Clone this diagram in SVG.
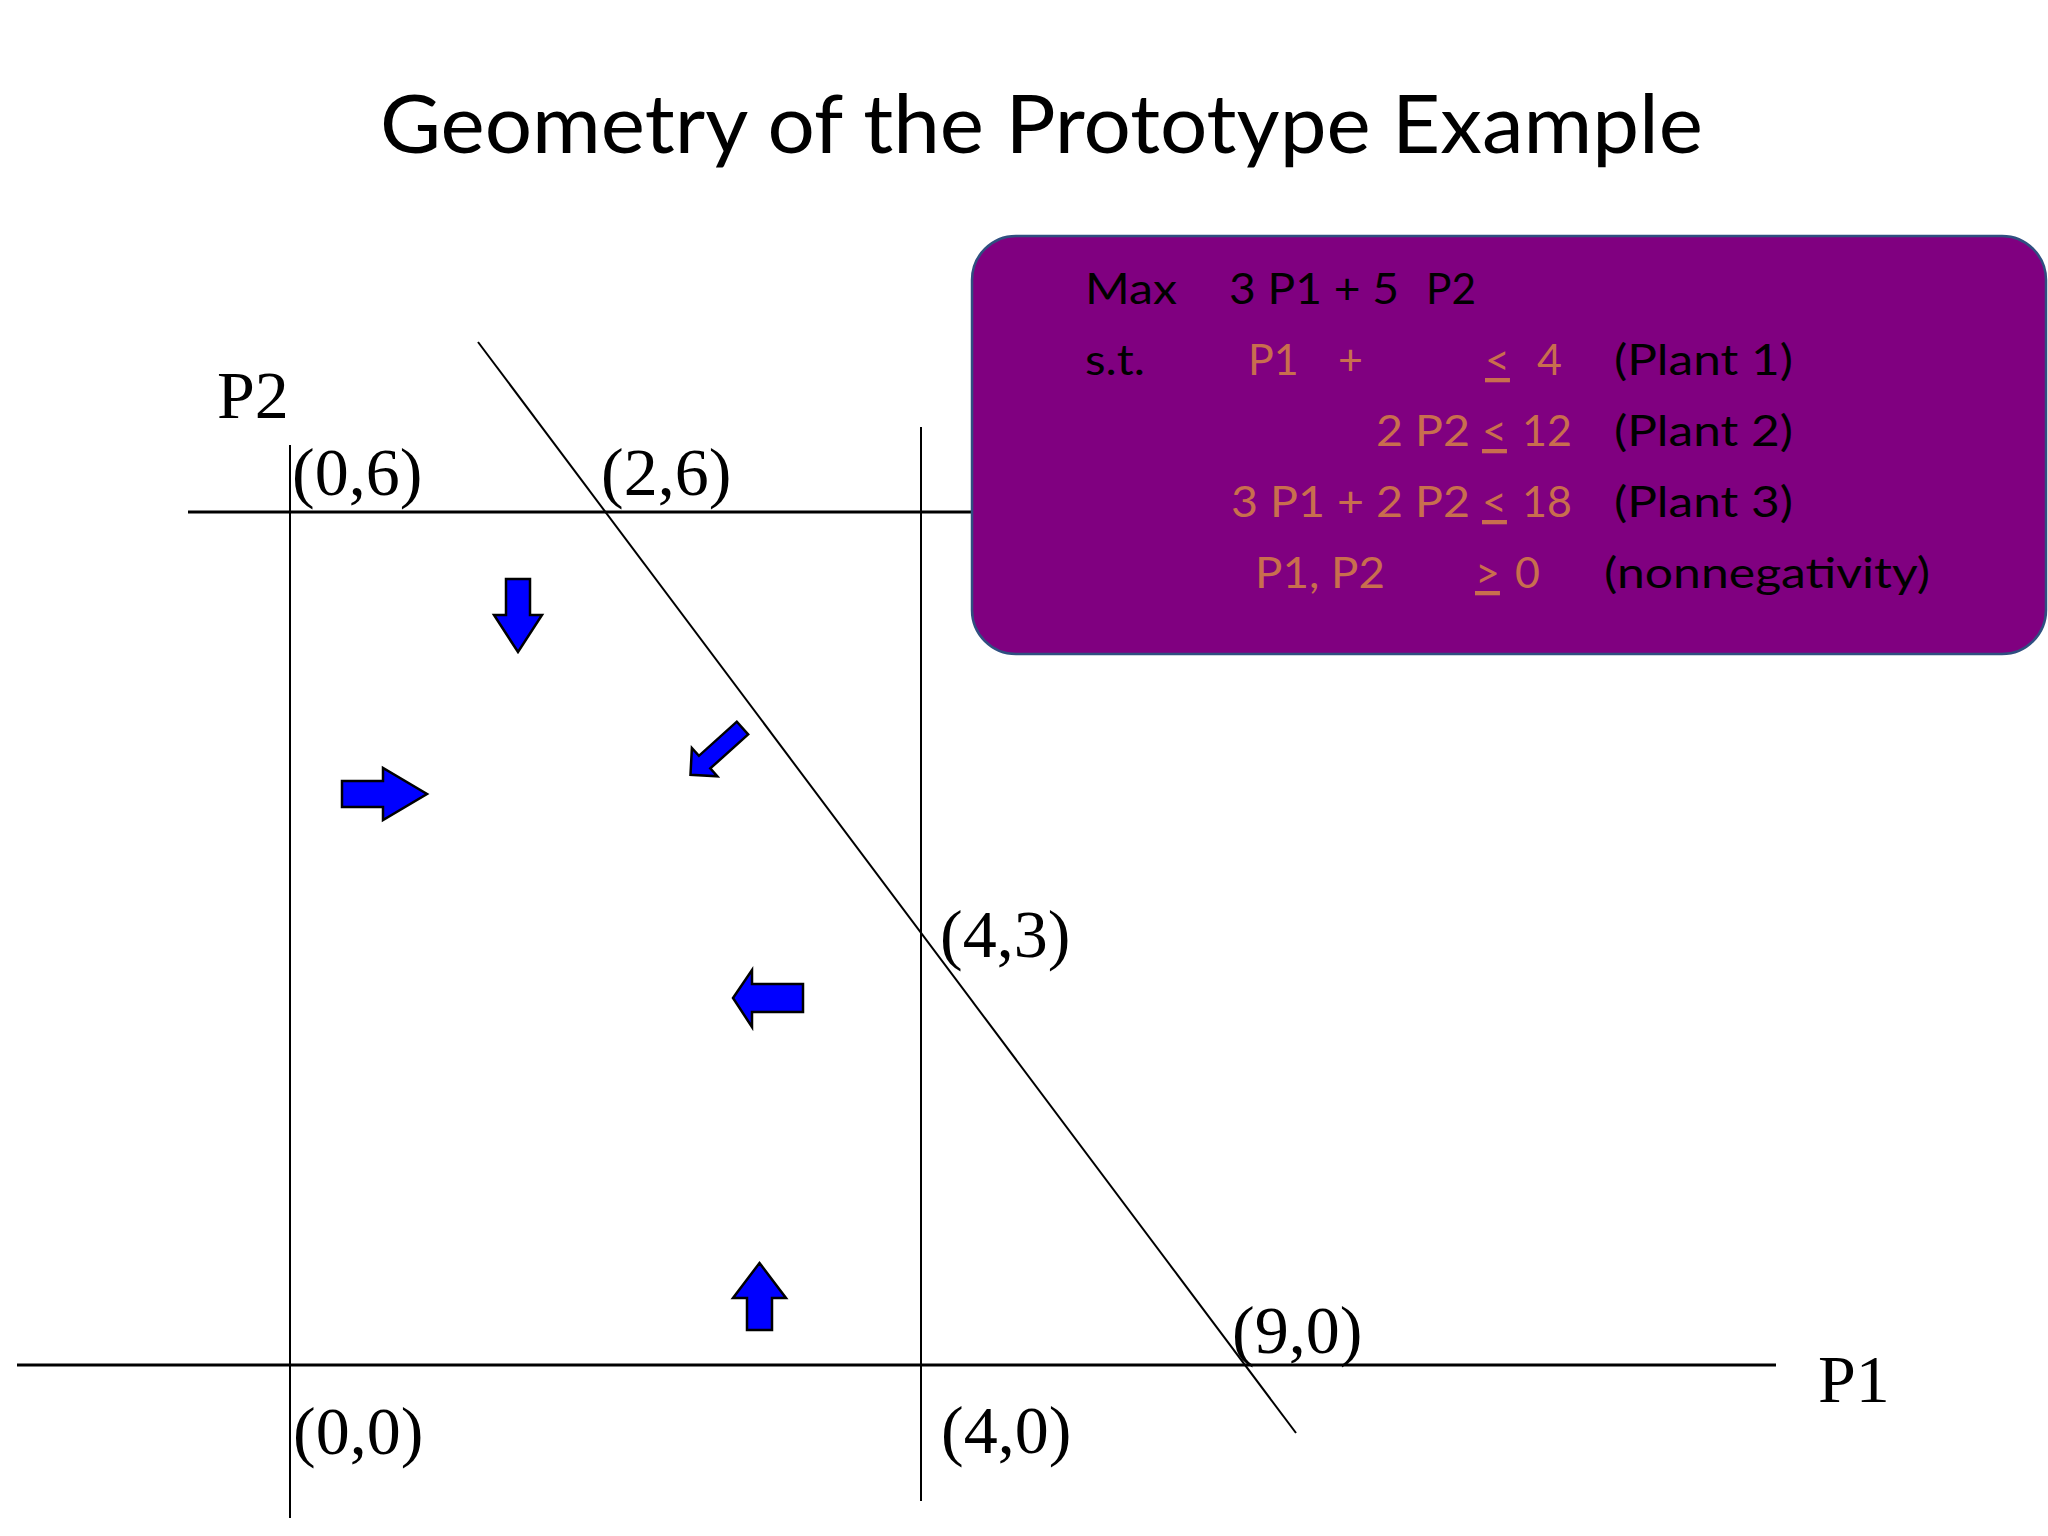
<svg xmlns="http://www.w3.org/2000/svg" width="2048" height="1536" viewBox="0 0 2048 1536">
<style>
.title{font-family:Lato,"Open Sans","Liberation Sans",sans-serif;font-size:82px;fill:#000}
.serif{font-family:"Liberation Serif","Times New Roman",serif;font-size:68px;fill:#000}
.bx{font-family:Lato,"Open Sans","Liberation Sans",sans-serif;font-size:43px}
.k{fill:#000}
.o{fill:#C96E4E}
.u{text-decoration:underline}
.thin{stroke:#000;stroke-width:2;fill:none}
.thick{stroke:#000;stroke-width:3;fill:none}
.arrow{fill:#0000FF;stroke:#000;stroke-width:2.5;stroke-linejoin:miter}
</style>
<rect width="2048" height="1536" fill="#FFFFFF"/>
<g id="title">
<text class="title" x="380" y="153" textLength="1323" lengthAdjust="spacingAndGlyphs">Geometry of the Prototype Example</text>
</g>
<g id="connectors">
<line class="thin" x1="290" y1="445" x2="290" y2="1518"/>
<line class="thin" x1="921" y1="427" x2="921" y2="1501"/>
<line class="thick" x1="188" y1="512" x2="980" y2="512"/>
<line class="thick" x1="17" y1="1365" x2="1776" y2="1365"/>
<line class="thin" x1="478" y1="342" x2="1296" y2="1433"/>
</g>
<g id="axis-labels">
<text id="label-P2" class="serif" x="217" y="418">P2</text>
<text id="label-P1" class="serif" x="1818" y="1402">P1</text>
</g>
<g id="corner-labels">
<text id="pt-0-6" class="serif" x="292" y="495">(0,6)</text>
<text id="pt-2-6" class="serif" x="601" y="495">(2,6)</text>
<text id="pt-4-3" class="serif" x="940" y="957">(4,3)</text>
<text id="pt-9-0" class="serif" x="1232" y="1353">(9,0)</text>
<text id="pt-0-0" class="serif" x="293" y="1454">(0,0)</text>
<text id="pt-4-0" class="serif" x="941" y="1453">(4,0)</text>
</g>
<g id="arrows">
<path id="arrow-down" class="arrow" d="M506,579 L530,579 L530,615 L542,615 L518,652 L494,615 L506,615 Z"/>
<path id="arrow-right" class="arrow" d="M342,781 L383,781 L383,768 L427,794 L383,820 L383,807 L342,807 Z"/>
<path id="arrow-diag" class="arrow" transform="translate(742.5,728) rotate(138)" d="M0,-8.5 L51,-8.5 L51,-19 L70,0 L51,19 L51,8.5 L0,8.5 Z"/>
<path id="arrow-left" class="arrow" d="M803,984 L752,984 L752,970 L733,998 L752,1027 L752,1012 L803,1012 Z"/>
<path id="arrow-up" class="arrow" d="M747,1330 L747,1298 L733,1298 L759.5,1263 L786,1298 L772,1298 L772,1330 Z"/>
</g>
<g id="model-box">
<rect x="972" y="236" width="1074" height="418" rx="44" ry="44" fill="#800080" stroke="#2F4F80" stroke-width="2.5"/>
<text class="bx k" x="1085" y="304" textLength="92" lengthAdjust="spacingAndGlyphs">Max</text>
<text class="bx k" x="1229" y="304" textLength="170" lengthAdjust="spacingAndGlyphs">3 P1 + 5</text>
<text class="bx k" x="1426" y="304" textLength="50" lengthAdjust="spacingAndGlyphs">P2</text>
<text class="bx k" x="1085" y="375" textLength="60" lengthAdjust="spacingAndGlyphs">s.t.</text>
<text class="bx o" x="1248" y="375">P1</text>
<text class="bx o" x="1338" y="375">+</text>
<text class="bx o u" x="1485" y="375">&lt;</text>
<text class="bx o" x="1537" y="375">4</text>
<text class="bx k" x="1614" y="375" textLength="179" lengthAdjust="spacingAndGlyphs">(Plant 1)</text>
<text class="bx o" x="1376" y="446" textLength="94" lengthAdjust="spacingAndGlyphs">2 P2</text>
<text class="bx o u" x="1482" y="446">&lt;</text>
<text class="bx o" x="1522" y="446">12</text>
<text class="bx k" x="1614" y="446" textLength="179" lengthAdjust="spacingAndGlyphs">(Plant 2)</text>
<text class="bx o" x="1231" y="517" textLength="239" lengthAdjust="spacingAndGlyphs">3 P1 + 2 P2</text>
<text class="bx o u" x="1482" y="517">&lt;</text>
<text class="bx o" x="1522" y="517">18</text>
<text class="bx k" x="1614" y="517" textLength="179" lengthAdjust="spacingAndGlyphs">(Plant 3)</text>
<text class="bx o" x="1255" y="588" textLength="130" lengthAdjust="spacingAndGlyphs">P1, P2</text>
<text class="bx o u" x="1475" y="588">&gt;</text>
<text class="bx o" x="1515" y="588">0</text>
<text class="bx k" x="1604" y="588" textLength="326" lengthAdjust="spacingAndGlyphs">(nonnegativity)</text>
</g>
</svg>
